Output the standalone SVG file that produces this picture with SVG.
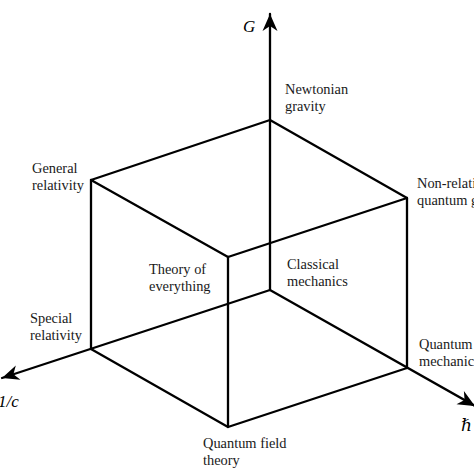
<svg xmlns="http://www.w3.org/2000/svg" width="474" height="474" viewBox="0 0 474 474">
  <defs>
    <style>
      .edge { stroke: #000; stroke-width: 2.3; fill: none; stroke-linecap: round; stroke-linejoin: round; }
      .lbl { font-family: "Liberation Serif", "Times New Roman", serif; font-size: 14.4px; fill: #1a1a1a; }
      .math { font-family: "Liberation Serif", "DejaVu Serif", serif; font-style: italic; font-size: 17px; fill: #000; }
    </style>
    <marker id="arrow" viewBox="-18 -9 20 18" markerWidth="20" markerHeight="18" refX="0" refY="0" orient="auto" markerUnits="userSpaceOnUse">
      <path d="M0,0 L-17,-7.5 L-12,0 L-17,7.5 Z" fill="#000"/>
    </marker>
  </defs>
  <rect width="474" height="474" fill="#fff"/>

  <g id="connectors">
    <!-- axes -->
    <line class="edge" x1="270" y1="290" x2="270" y2="14" marker-end="url(#arrow)"/>
    <line class="edge" x1="270" y1="290" x2="2" y2="378" marker-end="url(#arrow)"/>
    <line class="edge" x1="270" y1="290" x2="475" y2="406" marker-end="url(#arrow)"/>
    <!-- top face -->
    <polygon class="edge" points="270,120 91,180 228,257 407,198"/>
    <!-- verticals -->
    <line class="edge" x1="91" y1="180" x2="91" y2="349"/>
    <line class="edge" x1="228" y1="257" x2="228" y2="427"/>
    <line class="edge" x1="407" y1="198" x2="407" y2="368"/>
    <!-- bottom front -->
    <polyline class="edge" points="91,349 228,427 407,368"/>
  </g>

  <g id="axis-G"><text class="math" x="243" y="32">G</text></g>
  <g id="axis-c"><text class="math" x="-2" y="407">1/c</text></g>
  <g id="axis-hbar"><text class="math" x="461" y="431">ℏ</text></g>

  <g id="node-newtonian-gravity">
    <text class="lbl" x="285" y="94">Newtonian</text>
    <text class="lbl" x="285" y="111">gravity</text>
  </g>
  <g id="node-general-relativity">
    <text class="lbl" x="32" y="173">General</text>
    <text class="lbl" x="32" y="190">relativity</text>
  </g>
  <g id="node-nonrel-quantum-gravity">
    <text class="lbl" x="417" y="188">Non-relativistic</text>
    <text class="lbl" x="417" y="205">quantum gravity</text>
  </g>
  <g id="node-theory-of-everything">
    <text class="lbl" x="149" y="274">Theory of</text>
    <text class="lbl" x="149" y="291">everything</text>
  </g>
  <g id="node-classical-mechanics">
    <text class="lbl" x="287" y="269">Classical</text>
    <text class="lbl" x="287" y="286">mechanics</text>
  </g>
  <g id="node-special-relativity">
    <text class="lbl" x="30" y="323">Special</text>
    <text class="lbl" x="30" y="340">relativity</text>
  </g>
  <g id="node-quantum-mechanics">
    <text class="lbl" x="419" y="349">Quantum</text>
    <text class="lbl" x="419" y="366">mechanics</text>
  </g>
  <g id="node-quantum-field-theory">
    <text class="lbl" x="203" y="448">Quantum field</text>
    <text class="lbl" x="203" y="465">theory</text>
  </g>
</svg>
